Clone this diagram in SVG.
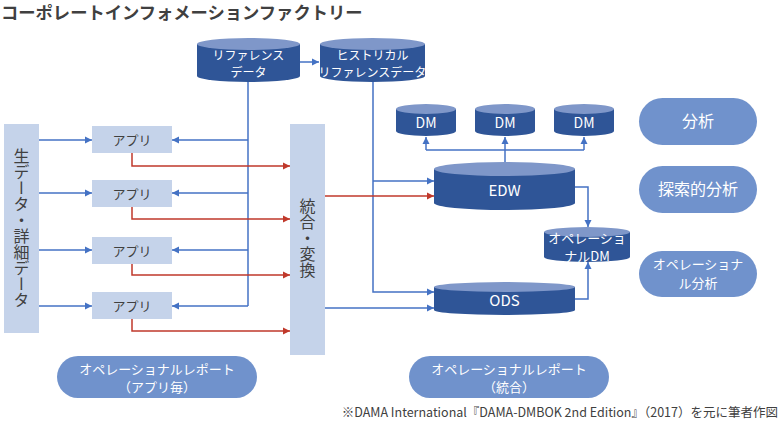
<svg xmlns="http://www.w3.org/2000/svg" width="780" height="424" viewBox="0 0 780 424">
<style>
text{font-family:"Noto Sans CJK JP","Noto Sans",sans-serif}
.title{font-size:17.3px;font-weight:bold;fill:#404040}
.cyl{fill:#2F5597}
.cyltop{fill:#7F97C9}
.box{fill:#C5D3EA}
.pill{fill:#7092CC}
.wt{fill:#fff;text-anchor:middle}
.dt{fill:#404040;text-anchor:middle}
.bl{fill:none;stroke:#4472C4;stroke-width:1.5}
.rd{fill:none;stroke:#C0392B;stroke-width:1.5}
.vt{writing-mode:vertical-rl;text-orientation:upright;font-size:16px;fill:#404040}
.foot{font-size:12.5px;fill:#404040;text-anchor:end}
</style>
<defs>
<marker id="ab" markerWidth="8" markerHeight="8" refX="7" refY="4" orient="auto" markerUnits="userSpaceOnUse"><path d="M0,0.5 L7,4 L0,7.5 Z" fill="#4472C4"/></marker>
<marker id="ar" markerWidth="8" markerHeight="8" refX="7" refY="4" orient="auto" markerUnits="userSpaceOnUse"><path d="M0,0.5 L7,4 L0,7.5 Z" fill="#C0392B"/></marker>
</defs>
<rect width="780" height="424" fill="#fff"/>
<text class="title" x="1" y="19">コーポレートインフォメーションファクトリー</text>

<g id="connectors">
<path class="bl" d="M300,62 H319" marker-end="url(#ab)"/>
<path class="bl" d="M248,82 V306"/>
<path class="bl" d="M248,140 H172" marker-end="url(#ab)"/>
<path class="bl" d="M248,193 H172" marker-end="url(#ab)"/>
<path class="bl" d="M248,250 H172" marker-end="url(#ab)"/>
<path class="bl" d="M248,306 H172" marker-end="url(#ab)"/>
<path class="bl" d="M39,140 H92" marker-end="url(#ab)"/>
<path class="bl" d="M39,193 H92" marker-end="url(#ab)"/>
<path class="bl" d="M39,250 H92" marker-end="url(#ab)"/>
<path class="bl" d="M39,306 H92" marker-end="url(#ab)"/>
<path class="bl" d="M373,82 V292 H434" marker-end="url(#ab)"/>
<path class="bl" d="M373,181 H434" marker-end="url(#ab)"/>
<path class="bl" d="M325,308 H434" marker-end="url(#ab)"/>
<path class="bl" d="M505,162 V150"/>
<path class="bl" d="M426,150 H584"/>
<path class="bl" d="M426,150 V137" marker-end="url(#ab)"/>
<path class="bl" d="M505,150 V137" marker-end="url(#ab)"/>
<path class="bl" d="M584,150 V137" marker-end="url(#ab)"/>
<path class="bl" d="M575,187 H588 V227" marker-end="url(#ab)"/>
<path class="bl" d="M575,299 H588 V262" marker-end="url(#ab)"/>
<path class="rd" d="M132,153 V166 H290" marker-end="url(#ar)"/>
<path class="rd" d="M132,207 V219 H290" marker-end="url(#ar)"/>
<path class="rd" d="M132,264 V275 H290" marker-end="url(#ar)"/>
<path class="rd" d="M132,319 V331 H290" marker-end="url(#ar)"/>
<path class="rd" d="M325,196 H434" marker-end="url(#ar)"/>
</g>

<g id="raw-data">
<rect class="box" x="4" y="124" width="35" height="209"/>
<text class="vt" x="21.5" y="148">生データ・詳細データ</text>
</g>
<g id="app1"><rect class="box" x="92" y="126" width="80" height="27"/><text class="dt" x="132" y="145" font-size="13">アプリ</text></g>
<g id="app2"><rect class="box" x="92" y="180" width="80" height="27"/><text class="dt" x="132" y="199" font-size="13">アプリ</text></g>
<g id="app3"><rect class="box" x="92" y="237" width="80" height="27"/><text class="dt" x="132" y="256" font-size="13">アプリ</text></g>
<g id="app4"><rect class="box" x="92" y="292" width="80" height="27"/><text class="dt" x="132" y="311" font-size="13">アプリ</text></g>
<g id="integration">
<rect class="box" x="290" y="124" width="35" height="231"/>
<text class="vt" x="307.5" y="198">統合・変換</text>
</g>

<g id="reference-data">
<path class="cyl" d="M197,44 V76 A51.5,6 0 0 0 300,76 V44 Z"/>
<ellipse class="cyltop" cx="248.5" cy="44" rx="51.5" ry="6"/>
<text class="wt" x="248.5" y="60" font-size="12">リファレンス</text>
<text class="wt" x="248.5" y="77" font-size="12">データ</text>
</g>
<g id="historical-reference-data">
<path class="cyl" d="M320,44 V76 A52.5,6 0 0 0 425,76 V44 Z"/>
<ellipse class="cyltop" cx="372.5" cy="44" rx="52.5" ry="6"/>
<text class="wt" x="372.5" y="60" font-size="12">ヒストリカル</text>
<text class="wt" x="372.5" y="77" font-size="12">リファレンスデータ</text>
</g>
<g id="dm1">
<path class="cyl" d="M396,109 V131 A30,5 0 0 0 456,131 V109 Z"/>
<ellipse class="cyltop" cx="426" cy="109" rx="30" ry="5"/>
<text class="wt" x="426" y="128" font-size="14">DM</text>
</g>
<g id="dm2">
<path class="cyl" d="M475,109 V131 A30,5 0 0 0 535,131 V109 Z"/>
<ellipse class="cyltop" cx="505" cy="109" rx="30" ry="5"/>
<text class="wt" x="505" y="128" font-size="14">DM</text>
</g>
<g id="dm3">
<path class="cyl" d="M554,109 V131 A30,5 0 0 0 614,131 V109 Z"/>
<ellipse class="cyltop" cx="584" cy="109" rx="30" ry="5"/>
<text class="wt" x="584" y="128" font-size="14">DM</text>
</g>
<g id="edw">
<path class="cyl" d="M434,169 V203 A70.5,7 0 0 0 575,203 V169 Z"/>
<ellipse class="cyltop" cx="504.5" cy="169" rx="70.5" ry="7"/>
<text class="wt" x="504.5" y="196" font-size="15">EDW</text>
</g>
<g id="ods">
<path class="cyl" d="M434,287 V310 A70.5,5 0 0 0 575,310 V287 Z"/>
<ellipse class="cyltop" cx="504.5" cy="287" rx="70.5" ry="5"/>
<text class="wt" x="504.5" y="306" font-size="15">ODS</text>
</g>
<g id="operational-dm">
<path class="cyl" d="M544,232 V257 A43,5 0 0 0 630,257 V232 Z"/>
<ellipse class="cyltop" cx="587" cy="232" rx="43" ry="5"/>
<text class="wt" x="587" y="243" font-size="13">オペレーショ</text>
<text class="wt" x="587" y="261" font-size="13">ナルDM</text>
</g>

<g id="analysis"><rect class="pill" x="639" y="98" width="118" height="47" rx="23.5"/><text class="wt" x="698" y="127" font-size="16">分析</text></g>
<g id="exploratory-analysis"><rect class="pill" x="639" y="166" width="118" height="47" rx="23.5"/><text class="wt" x="698" y="195" font-size="16">探索的分析</text></g>
<g id="operational-analysis"><rect class="pill" x="639" y="251" width="118" height="46" rx="23"/><text class="wt" x="698" y="269" font-size="13">オペレーショナ</text><text class="wt" x="698" y="288" font-size="13">ル分析</text></g>

<g id="report-app"><rect class="pill" x="57" y="356" width="200" height="42" rx="21"/><text class="wt" x="157" y="374" font-size="13">オペレーショナルレポート</text><text class="wt" x="157" y="392" font-size="13">（アプリ毎）</text></g>
<g id="report-integrated"><rect class="pill" x="409" y="356" width="200" height="42" rx="21"/><text class="wt" x="509" y="374" font-size="13">オペレーショナルレポート</text><text class="wt" x="509" y="392" font-size="13">（統合）</text></g>

<text class="foot" x="778" y="417">※DAMA International『DAMA-DMBOK 2nd Edition』（2017）を元に筆者作図</text>
</svg>
